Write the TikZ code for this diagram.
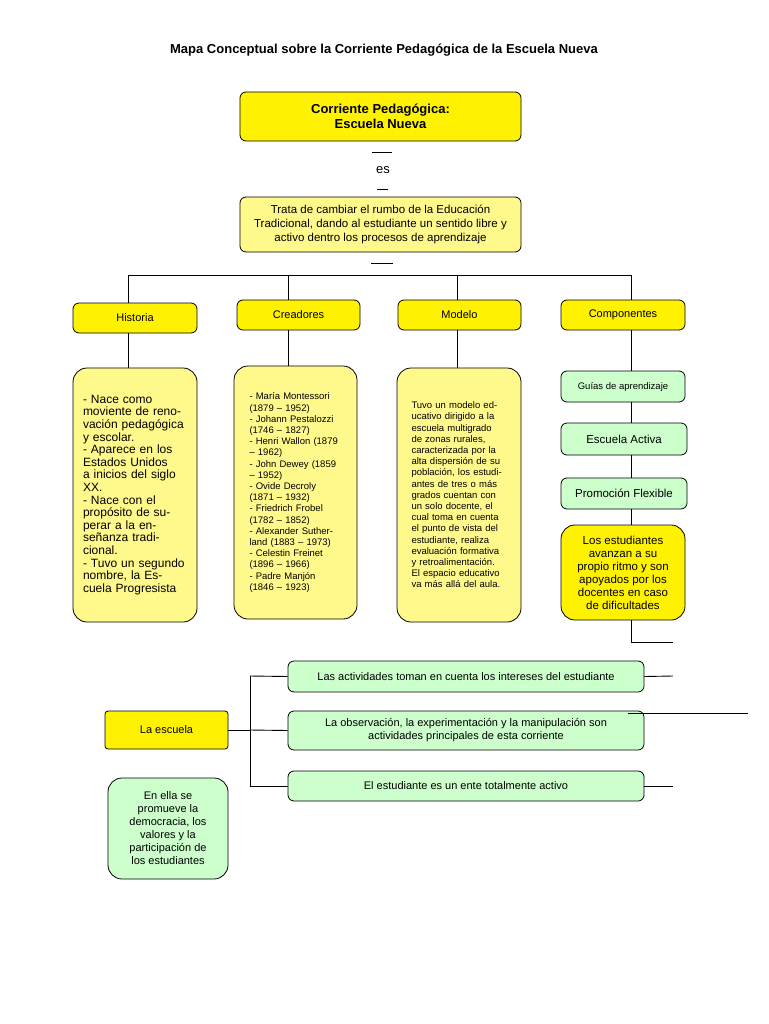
\documentclass[tikz,border=0pt]{standalone}
\usepackage{fontspec}
\setmainfont{Liberation Sans}
\usetikzlibrary{positioning}

\begin{document}
\begin{tikzpicture}
            [
                x=1pt, y=-1pt,
                box/.style={draw, rounded corners=6pt, line width=0.8pt, align=center, inner sep=2pt},
                yel/.style={box, fill=yellow},
                pale/.style={box, fill=yellow!45},
                mint/.style={box, fill=green!20},
                link/.style={line width=0.9pt}
            ]
            \useasboundingbox (0,0) rectangle (768,1024);
            \node[font=\bfseries\fontsize{13}{15}\selectfont] (title) at (384,50)
                {Mapa Conceptual sobre la Corriente Pedagógica de la Escuela Nueva};

            % top part
            \node[yel, minimum width=281pt, minimum height=49pt, font=\bfseries\fontsize{13}{15}\selectfont] (root) at (380.5,116.5)
                {Corriente Pedagógica:\\Escuela Nueva};
            \node[font=\fontsize{13}{15}\selectfont] (es) at (383,170) {es};
            \draw[link] (372,152) -- (392,152);
            \draw[link] (377,189) -- (388,189);
            \node[pale, minimum width=281pt, minimum height=55pt, font=\fontsize{11.5}{14}\selectfont] (trata) at (380.5,224.5)
                {Trata de cambiar el rumbo de la Educación\\
                 Tradicional, dando al estudiante un sentido libre y\\
                 activo dentro los procesos de aprendizaje};
            \draw[link] (371,263) -- (393,263);

            % branches
            \node[yel, minimum width=124pt, minimum height=30pt, font=\fontsize{11}{13}\selectfont] (historia) at (135,318) {Historia};
            \node[yel, minimum width=123pt, minimum height=30pt, font=\fontsize{11}{13}\selectfont] (creadores) at (298.5,315) {Creadores};
            \node[yel, minimum width=123pt, minimum height=30pt, font=\fontsize{11}{13}\selectfont] (modelo) at (459.5,315) {Modelo};
            \node[yel, minimum width=124pt, minimum height=30pt, font=\fontsize{11}{13}\selectfont] (comp) at (623,315) {Componentes};
            \coordinate (hl) at (128,275);
            \coordinate (hr) at (631,275);
            \draw[link] (hl) -- (hr);
            \draw[link] (hl) -- (hl |- historia.north);
            \draw[link] (288,275) -- (288,300);
            \draw[link] (457,275) -- (457,300);
            \draw[link] (hr) -- (hr |- comp.north);

            % details
            \node[pale, rounded corners=14pt, minimum width=124pt, minimum height=254pt, text width=104pt, align=left,
                  font=\fontsize{12}{12.6}\selectfont] (hist) at (135,495)
                {- Nace como moviente de renovación pedagógica y escolar.\\
                 - Aparece en los Estados Unidos a inicios del siglo XX.\\
                 - Nace con el propósito de superar a la enseñanza tradicional.\\
                 - Tuvo un segundo nombre, la Escuela Progresista};
            \node[pale, rounded corners=14pt, minimum width=123pt, minimum height=253pt, text width=92pt, align=left,
                  font=\fontsize{9.5}{11.2}\selectfont] (creal) at (295.5,492.5)
                {- María Montessori (1879 – 1952)\\
                 - Johann Pestalozzi (1746 – 1827)\\
                 - Henri Wallon (1879 – 1962)\\
                 - John Dewey (1859 – 1952)\\
                 - Ovide Decroly (1871 – 1932)\\
                 - Friedrich Frobel (1782 – 1852)\\
                 - Alexander Sutherland (1883 – 1973)\\
                 - Celestin Freinet (1896 – 1966)\\
                 - Padre Manjón (1846 – 1923)};
            \node[pale, rounded corners=14pt, minimum width=124pt, minimum height=254pt, text width=95pt, align=left,
                  font=\fontsize{9.5}{11.2}\selectfont] (mod) at (459,495)
                {Tuvo un modelo educativo dirigido a la escuela multigrado de zonas rurales, caracterizada por la alta dispersión de su población, los estudiantes de tres o más grados cuentan con un solo docente, el cual toma en cuenta el punto de vista del estudiante, realiza evaluación formativa y retroalimentación. El espacio educativo va más allá del aula.};
            \draw[link] (historia.south -| 128,0) -- (hist.north -| 128,0);
            \draw[link] (creadores.south -| 288,0) -- (creal.north -| 288,0);
            \draw[link] (modelo.south -| 457,0) -- (mod.north -| 457,0);

            % componentes
            \node[mint, minimum width=124pt, minimum height=31pt, font=\fontsize{9.5}{11}\selectfont] (guias) at (623,386.5) {Guías de aprendizaje};
            \node[mint, minimum width=126pt, minimum height=32pt, font=\fontsize{11.5}{13}\selectfont] (activa) at (624,439) {Escuela Activa};
            \node[mint, minimum width=126pt, minimum height=31pt, font=\fontsize{11.5}{13}\selectfont] (flex) at (624,493.5) {Promoción Flexible};
            \node[yel, rounded corners=14pt, minimum width=124pt, minimum height=95pt, font=\fontsize{11.5}{13}\selectfont] (ritmo) at (623,572.5)
                {Los estudiantes\\avanzan a su\\propio ritmo y son\\apoyados por los\\docentes en caso\\de dificultades};
            \coordinate (re) at (673,642);
            \draw[link] (comp.south -| 631,0) -- (guias.north -| 631,0);
            \draw[link] (guias.south -| 631,0) -- (activa.north -| 631,0);
            \draw[link] (activa.south -| 631,0) -- (flex.north -| 631,0);
            \draw[link] (flex.south -| 631,0) -- (ritmo.north -| 631,0);
            \draw[link] (ritmo.south -| 631,0) -- (631,642) -- (re);

            % la escuela
            \node[yel, rounded corners=3pt, minimum width=123pt, minimum height=38pt, font=\fontsize{11}{13}\selectfont] (escuela) at (166.5,730) {La escuela};
            \node[mint, rounded corners=14pt, minimum width=120pt, minimum height=101pt, font=\fontsize{11}{13}\selectfont] (ella) at (168,828.5)
                {En ella se\\promueve la\\democracia, los\\valores y la\\participación de\\los estudiantes};
            \node[mint, minimum width=356pt, minimum height=31pt, font=\fontsize{11}{13}\selectfont] (int) at (466,676.5)
                {Las actividades toman en cuenta los intereses del estudiante};
            \node[mint, minimum width=356pt, minimum height=39pt, font=\fontsize{11}{13}\selectfont] (obs) at (466,730.5)
                {La observación, la experimentación y la manipulación son\\actividades principales de esta corriente};
            \node[mint, minimum width=356pt, minimum height=30pt, font=\fontsize{11}{13}\selectfont] (ente) at (466,786)
                {El estudiante es un ente totalmente activo};
            \draw[link] (escuela.east) -- (250,730);
            \draw[link] (250,676) -- (250,786);
            \draw[link] (250,676) -- (int.west);
            \draw[link] (250,730) -- (obs.west);
            \draw[link] (250,786) -- (ente.west);
            \coordinate (e1) at (673,676);
            \coordinate (e2a) at (628,713);
            \coordinate (e2) at (748,713);
            \coordinate (e3) at (673,786);
            \draw[link] (int.east) -- (e1);
            \draw[link] (e2a) -- (e2);
            \draw[link] (ente.east) -- (e3);
\end{tikzpicture}
\end{document}
